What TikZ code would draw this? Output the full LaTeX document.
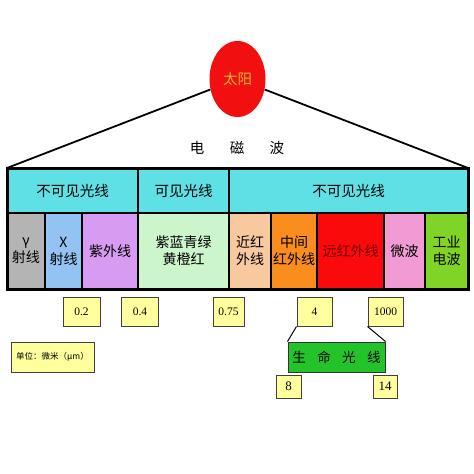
\documentclass[tikz,border=0pt]{standalone}
\usepackage{fontspec}
\setmainfont{Noto Sans CJK SC}
\newfontfamily\numfont{Liberation Serif}
\usetikzlibrary{shapes.geometric}

\definecolor{suncol}{HTML}{F20F0F}
\definecolor{suntext}{HTML}{F5B43C}
\definecolor{hdrcyan}{HTML}{5FE0E4}
\definecolor{gammagray}{HTML}{B4B4B4}
\definecolor{xblue}{HTML}{92C3F2}
\definecolor{uvviolet}{HTML}{D79CF2}
\definecolor{visgreen}{HTML}{CDF5CC}
\definecolor{nirpeach}{HTML}{F8C89E}
\definecolor{mirorange}{HTML}{FB8C1E}
\definecolor{firred}{HTML}{FA0A0A}
\definecolor{mwpink}{HTML}{F29AD4}
\definecolor{rwgreen}{HTML}{80D426}
\definecolor{numyellow}{HTML}{FFFF9E}
\definecolor{lifegreen}{HTML}{22C42A}

\tikzset{
  band/.style={draw=black, line width=2pt, fill=hdrcyan, minimum height=45pt,
    inner sep=0pt, outer sep=0pt, font=\fontsize{14.5}{16}\selectfont},
  strip/.style={draw=black, line width=2pt, minimum height=76pt, inner sep=0pt,
    outer sep=0pt, align=center, font=\fontsize{14}{17}\selectfont},
  numbox/.style={draw=black!75, line width=1pt, fill=numyellow, minimum height=29pt,
    inner sep=0pt, font=\numfont\fontsize{11.5}{13}\selectfont},
}

\begin{document}
\begin{tikzpicture}[x=1pt, y=-1pt]
	\useasboundingbox (0,0) rectangle (474,474);

	%the sun on top
	\node[ellipse, fill=suncol, minimum width=56pt, minimum height=76pt, inner sep=0pt,
		text=suntext, font=\fontsize{14.5}{16}\selectfont] (sun) at (237.5,79) {太阳};
	\node[font=\fontsize{14.5}{16}\selectfont] (emwave) at (237,148) {电\hspace{1.75em}磁\hspace{1.75em}波};

	%header row: invisible / visible / invisible
	\node[band, minimum width=131pt] (hA) at (72.5,190.5) {不可见光线};
	\node[band, minimum width=91pt] (hB) at (183.5,190.5) {可见光线};
	\node[band, minimum width=239pt] (hC) at (348.5,190.5) {不可见光线};

	%spectrum strip
	\node[strip, fill=gammagray, minimum width=38pt] (gamma) at (26,251) {γ\\射线};
	\node[strip, fill=xblue, minimum width=37pt] (xray) at (63.5,251) {X\\射线};
	\node[strip, fill=uvviolet, minimum width=56pt] (uv) at (110,251) {紫外线};
	\node[strip, fill=visgreen, minimum width=91pt] (vis) at (183.5,251) {紫蓝青绿\\黄橙红};
	\node[strip, fill=nirpeach, minimum width=42pt] (nir) at (250,251) {近红\\外线};
	\node[strip, fill=mirorange, minimum width=46pt] (mir) at (294,251) {中间\\红外线};
	\node[strip, fill=firred, text=black!55!red, minimum width=67pt] (fir) at (350.5,251) {远红外线};
	\node[strip, fill=mwpink, minimum width=41pt] (micro) at (404.5,251) {微波};
	\node[strip, fill=rwgreen, minimum width=43pt] (radio) at (446.5,251) {工业\\电波};
	\draw[line width=3pt] (hA.north west) rectangle (radio.south east);

	%roof lines from the sun
	\draw[line width=1.8pt] (sun) -- (hA.north west);
	\draw[line width=1.8pt] (sun) -- (hC.north east);

	%wavelength marks
	\node[numbox, minimum width=37pt] (n02) at (81.5,311.5) {0.2};
	\node[numbox, minimum width=37pt] (n04) at (140,311.5) {0.4};
	\node[numbox, minimum width=31pt] (n075) at (228.5,311.5) {0.75};
	\node[numbox, minimum width=35pt] (n4) at (314.5,311.5) {4};
	\node[numbox, minimum width=35pt] (n1000) at (385.5,311.5) {1000};

	%unit and life ray
	\node[numbox, minimum width=83pt, minimum height=30pt, font=\fontsize{8.5}{10}\selectfont] (unit) at (52.5,357) {单位：微米（μm）};
	\node[draw=black!80, line width=1pt, fill=lifegreen, minimum width=97pt, minimum height=30pt, inner sep=0pt,
		font=\fontsize{13.5}{15}\selectfont] (life) at (336.5,357) {生\hspace{0.85em}命\hspace{0.85em}光\hspace{0.85em}线};
	\draw[line width=1pt] (n4.south west) -- (life.north west);
	\draw[line width=1pt] (n1000.south west) -- (life.north east);
	\node[numbox, minimum width=25pt, minimum height=23pt, font=\numfont\fontsize{13}{15}\selectfont] (n8) at (288.5,386.5) {8};
	\node[numbox, minimum width=24pt, minimum height=23pt, font=\numfont\fontsize{13}{15}\selectfont] (n14) at (385,386.5) {14};

\end{tikzpicture}
\end{document}
